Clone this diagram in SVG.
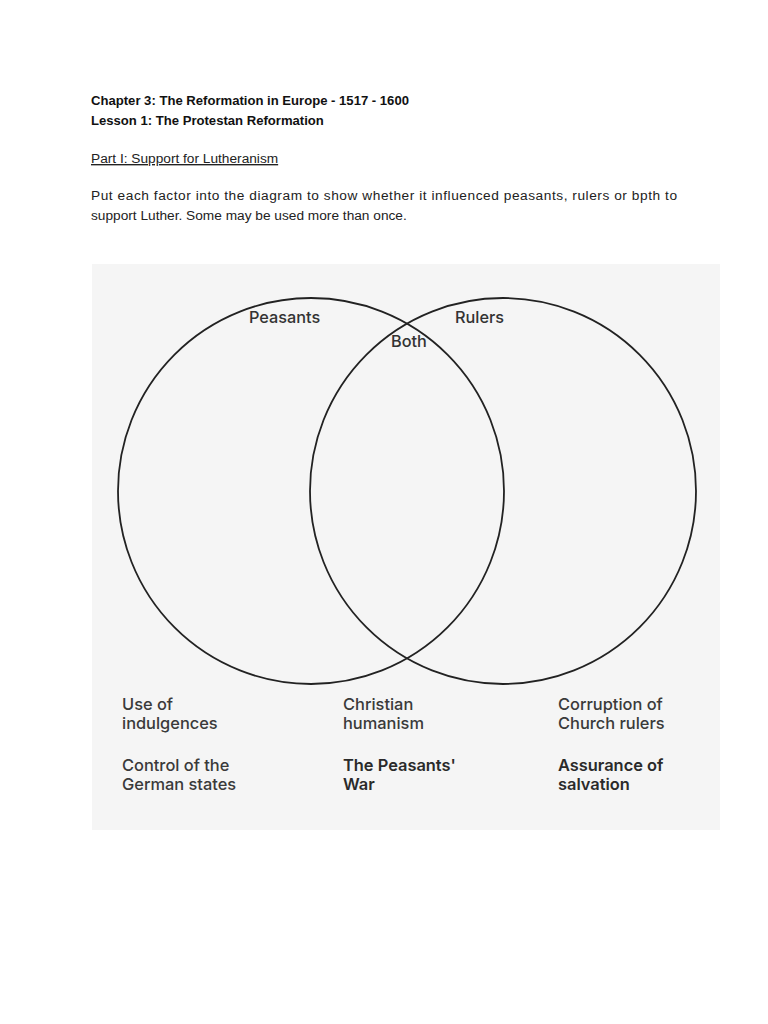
<svg xmlns="http://www.w3.org/2000/svg" width="768" height="1024" viewBox="0 0 768 1024">
<style>
.h{font-family:"Liberation Sans",Arial,sans-serif;font-size:13.1px;font-weight:bold;fill:#111}
.p{font-family:"Liberation Sans",Arial,sans-serif;font-size:13.7px;fill:#222}
.l{font-family:Inter,"Liberation Sans",sans-serif;font-size:16.3px;font-weight:500;fill:#333}
.b{font-family:Inter,"Liberation Sans",sans-serif;font-size:16.4px;font-weight:500;fill:#3a3a3a}
.bb{font-weight:600;fill:#2a2a2a}
.c{fill:none;stroke:#222;stroke-width:1.8}
</style>
<rect width="768" height="1024" fill="#fff"/>
<text class="h" x="91" y="105">Chapter 3: The Reformation in Europe - 1517 - 1600</text>
<text class="h" x="91" y="125">Lesson 1: The Protestan Reformation</text>
<text class="p" x="91" y="163" text-decoration="underline">Part I: Support for Lutheranism</text>
<text class="p" x="91" y="200" textLength="586" lengthAdjust="spacing">Put each factor into the diagram to show whether it influenced peasants, rulers or bpth to</text>
<text class="p" x="91" y="220">support Luther. Some may be used more than once.</text>
<rect x="92" y="264" width="628" height="566" fill="#f5f5f5"/>
<g id="connectors"></g>
<g id="peasants"><circle class="c" cx="311" cy="491" r="193"/><text class="l" x="249" y="323">Peasants</text></g>
<g id="rulers"><circle class="c" cx="503" cy="491" r="193"/><text class="l" x="455" y="323">Rulers</text></g>
<g id="both"><text class="l" x="391" y="347">Both</text></g>
<g id="factors">
<text class="b" x="122" y="710">Use of</text><text class="b" x="122" y="729">indulgences</text>
<text class="b" x="343" y="710">Christian</text><text class="b" x="343" y="729">humanism</text>
<text class="b" x="558" y="710">Corruption of</text><text class="b" x="558" y="729">Church rulers</text>
<text class="b" x="122" y="771">Control of the</text><text class="b" x="122" y="790">German states</text>
<text class="b bb" x="343" y="771">The Peasants'</text><text class="b bb" x="343" y="790">War</text>
<text class="b bb" x="558" y="771">Assurance of</text><text class="b bb" x="558" y="790">salvation</text>
</g>
</svg>
